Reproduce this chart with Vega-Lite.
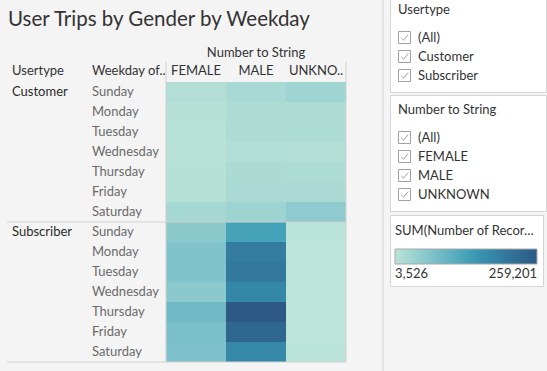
{
  "$schema": "https://vega.github.io/schema/vega-lite/v6.json",
  "width": 383,
  "height": 371,
  "autosize": "none",
  "padding": {"left": 0, "top": 0, "right": 164, "bottom": 0},
  "background": "#f4f4f4",
  "title": {"text": "User Trips by Gender by Weekday", "anchor": "start", "frame": "group", "orient": "top", "offset": -52, "baseline": "alphabetic", "dx": 8, "font": "Lato", "fontSize": 20.5, "fontWeight": "normal", "color": "#333333"},
  "config": {
    "font": "Lato",
    "view": {"fill": "white", "stroke": null},
    "axis": {"disable": true},
    "legend": {"orient": "none", "titleFont": "Lato", "titleFontSize": 13, "titleFontWeight": "normal", "titleColor": "#333333", "labelFont": "Lato", "labelFontSize": 13, "labelColor": "#333333", "fillColor": "white", "strokeColor": "#d4d4d4", "padding": 8}
  },
  "datasets": {
    "trips": [
      {"usertype": "Customer", "weekday": "Sunday", "gender": "FEMALE", "trips": 14000},
      {"usertype": "Customer", "weekday": "Sunday", "gender": "MALE", "trips": 24000},
      {"usertype": "Customer", "weekday": "Sunday", "gender": "UNKNOWN", "trips": 34000},
      {"usertype": "Customer", "weekday": "Monday", "gender": "FEMALE", "trips": 8600},
      {"usertype": "Customer", "weekday": "Monday", "gender": "MALE", "trips": 19000},
      {"usertype": "Customer", "weekday": "Monday", "gender": "UNKNOWN", "trips": 19500},
      {"usertype": "Customer", "weekday": "Tuesday", "gender": "FEMALE", "trips": 8200},
      {"usertype": "Customer", "weekday": "Tuesday", "gender": "MALE", "trips": 18000},
      {"usertype": "Customer", "weekday": "Tuesday", "gender": "UNKNOWN", "trips": 18500},
      {"usertype": "Customer", "weekday": "Wednesday", "gender": "FEMALE", "trips": 7000},
      {"usertype": "Customer", "weekday": "Wednesday", "gender": "MALE", "trips": 14500},
      {"usertype": "Customer", "weekday": "Wednesday", "gender": "UNKNOWN", "trips": 14000},
      {"usertype": "Customer", "weekday": "Thursday", "gender": "FEMALE", "trips": 10000},
      {"usertype": "Customer", "weekday": "Thursday", "gender": "MALE", "trips": 20500},
      {"usertype": "Customer", "weekday": "Thursday", "gender": "UNKNOWN", "trips": 19500},
      {"usertype": "Customer", "weekday": "Friday", "gender": "FEMALE", "trips": 10500},
      {"usertype": "Customer", "weekday": "Friday", "gender": "MALE", "trips": 21500},
      {"usertype": "Customer", "weekday": "Friday", "gender": "UNKNOWN", "trips": 21500},
      {"usertype": "Customer", "weekday": "Saturday", "gender": "FEMALE", "trips": 26000},
      {"usertype": "Customer", "weekday": "Saturday", "gender": "MALE", "trips": 36000},
      {"usertype": "Customer", "weekday": "Saturday", "gender": "UNKNOWN", "trips": 52000},
      {"usertype": "Subscriber", "weekday": "Sunday", "gender": "FEMALE", "trips": 55000},
      {"usertype": "Subscriber", "weekday": "Sunday", "gender": "MALE", "trips": 131000},
      {"usertype": "Subscriber", "weekday": "Sunday", "gender": "UNKNOWN", "trips": 4200},
      {"usertype": "Subscriber", "weekday": "Monday", "gender": "FEMALE", "trips": 67000},
      {"usertype": "Subscriber", "weekday": "Monday", "gender": "MALE", "trips": 195000},
      {"usertype": "Subscriber", "weekday": "Monday", "gender": "UNKNOWN", "trips": 3900},
      {"usertype": "Subscriber", "weekday": "Tuesday", "gender": "FEMALE", "trips": 68000},
      {"usertype": "Subscriber", "weekday": "Tuesday", "gender": "MALE", "trips": 203000},
      {"usertype": "Subscriber", "weekday": "Tuesday", "gender": "UNKNOWN", "trips": 3700},
      {"usertype": "Subscriber", "weekday": "Wednesday", "gender": "FEMALE", "trips": 56000},
      {"usertype": "Subscriber", "weekday": "Wednesday", "gender": "MALE", "trips": 178000},
      {"usertype": "Subscriber", "weekday": "Wednesday", "gender": "UNKNOWN", "trips": 3526},
      {"usertype": "Subscriber", "weekday": "Thursday", "gender": "FEMALE", "trips": 88000},
      {"usertype": "Subscriber", "weekday": "Thursday", "gender": "MALE", "trips": 259201},
      {"usertype": "Subscriber", "weekday": "Thursday", "gender": "UNKNOWN", "trips": 3800},
      {"usertype": "Subscriber", "weekday": "Friday", "gender": "FEMALE", "trips": 76000},
      {"usertype": "Subscriber", "weekday": "Friday", "gender": "MALE", "trips": 232000},
      {"usertype": "Subscriber", "weekday": "Friday", "gender": "UNKNOWN", "trips": 3900},
      {"usertype": "Subscriber", "weekday": "Saturday", "gender": "FEMALE", "trips": 71000},
      {"usertype": "Subscriber", "weekday": "Saturday", "gender": "MALE", "trips": 176000},
      {"usertype": "Subscriber", "weekday": "Saturday", "gender": "UNKNOWN", "trips": 4300}
    ],
    "usertypes": [{"usertype": "Customer"}, {"usertype": "Subscriber"}],
    "usertypeFilter": [{"usertype": "(All)"}, {"usertype": "Customer"}, {"usertype": "Subscriber"}],
    "genderFilter": [{"gender": "(All)"}, {"gender": "FEMALE"}, {"gender": "MALE"}, {"gender": "UNKNOWN"}],
    "genders": [{"gender": "FEMALE"}, {"gender": "MALE"}, {"gender": "UNKNOWN"}],
    "headers": [{"col": "Usertype"}, {"col": "Weekday of.."}],
    "groupHeader": [{"h": "Number to String"}]
  },
  "data": {"name": "trips"},
  "layer": [
    {
      "layer": [
        {
          "mark": {"type": "rect"},
          "encoding": {
            "x": {"field": "gender", "type": "nominal", "scale": {"type": "band", "domain": ["FEMALE", "MALE", "UNKNOWN"], "range": [166, 346], "paddingInner": 0, "paddingOuter": 0}},
            "y": {"field": "usertype", "type": "nominal", "scale": {"type": "band", "domain": ["Customer", "Subscriber"], "range": [82, 362], "paddingInner": 0, "paddingOuter": 0}},
            "yOffset": {"field": "weekday", "type": "nominal", "scale": {"domain": ["Sunday", "Monday", "Tuesday", "Wednesday", "Thursday", "Friday", "Saturday"], "paddingInner": 0, "paddingOuter": 0}},
            "color": {"field": "trips", "type": "quantitative", "title": "SUM(Number of Records)", "scale": {"scheme": "tealblues"},
              "legend": {"legendX": 390, "legendY": 215, "direction": "horizontal", "gradientLength": 142, "gradientThickness": 15, "padding": 5, "titleBaseline": "line-top", "titleLineHeight": 22, "titlePadding": 16, "titleLimit": 142, "labelOffset": 4, "values": [3526, 259201], "labelExpr": "format(datum.value, ',')", "gradientStrokeColor": "#a8a8a8", "gradientStrokeWidth": 1}}
          }
        },
        {
          "data": {"name": "genders"},
          "transform": [{"filter": "datum.gender === 'FEMALE'"}],
          "mark": {"type": "rule", "color": "#d0d0d0"},
          "encoding": {
            "x": {"field": "gender", "type": "nominal", "bandPosition": 0},
            "y": {"datum": "Customer", "bandPosition": -0.143},
            "y2": {"datum": "Subscriber", "bandPosition": 1}
          }
        },
        {
          "data": {"name": "genders"},
          "transform": [{"filter": "datum.gender === 'UNKNOWN'"}],
          "mark": {"type": "rule", "color": "#d0d0d0"},
          "encoding": {
            "x": {"field": "gender", "type": "nominal", "bandPosition": 1},
            "y": {"datum": "Customer", "bandPosition": -0.143},
            "y2": {"datum": "Subscriber", "bandPosition": 1}
          }
        },
        {
          "data": {"name": "usertypes"},
          "mark": {"type": "rule", "color": "#d0d0d0"},
          "encoding": {
            "x": {"datum": "FEMALE", "bandPosition": 0},
            "x2": {"datum": "UNKNOWN", "bandPosition": 1},
            "y": {"field": "usertype", "type": "nominal", "bandPosition": 1}
          }
        },
        {
          "data": {"name": "genders"},
          "mark": {"type": "text", "baseline": "alphabetic", "align": "center", "dy": -7, "fontSize": 13, "color": "#333333"},
          "encoding": {
            "x": {"field": "gender", "type": "nominal"},
            "y": {"datum": "Customer", "bandPosition": 0},
            "text": {"condition": {"test": "datum.gender === 'UNKNOWN'", "value": "UNKNO.."}, "field": "gender"}
          }
        },
        {
          "data": {"name": "groupHeader"},
          "mark": {"type": "text", "baseline": "alphabetic", "align": "center", "dy": -25, "fontSize": 13, "color": "#333333"},
          "encoding": {
            "x": {"datum": "MALE"},
            "y": {"datum": "Customer", "bandPosition": 0},
            "text": {"field": "h"}
          }
        }
      ]
    },
    {
      "layer": [
        {
          "transform": [{"filter": "datum.gender === 'FEMALE' && datum.weekday === 'Sunday'"}],
          "mark": {"type": "text", "align": "left", "baseline": "middle", "dx": 5, "fontSize": 13, "color": "#2b2b2b"},
          "encoding": {
            "x": {"datum": "Usertype", "bandPosition": 0, "scale": {"type": "band", "domain": ["Usertype", "Weekday of.."], "range": [7, 167], "paddingInner": 0, "paddingOuter": 0}},
            "y": {"field": "usertype", "type": "nominal"},
            "yOffset": {"field": "weekday", "type": "nominal"},
            "text": {"field": "usertype"}
          }
        },
        {
          "transform": [{"filter": "datum.gender === 'FEMALE'"}],
          "mark": {"type": "text", "align": "left", "baseline": "middle", "dx": 5, "fontSize": 13, "color": "#6a6a6a"},
          "encoding": {
            "x": {"datum": "Weekday of..", "bandPosition": 0},
            "y": {"field": "usertype", "type": "nominal"},
            "yOffset": {"field": "weekday", "type": "nominal"},
            "text": {"field": "weekday"}
          }
        },
        {
          "data": {"name": "headers"},
          "mark": {"type": "text", "align": "left", "baseline": "alphabetic", "dx": 5, "dy": -7, "fontSize": 13, "color": "#333333"},
          "encoding": {
            "x": {"field": "col", "type": "nominal", "bandPosition": 0},
            "y": {"datum": "Customer", "bandPosition": 0},
            "text": {"field": "col"}
          }
        },
        {
          "data": {"name": "usertypes"},
          "mark": {"type": "rule", "color": "#d0d0d0"},
          "encoding": {
            "x": {"datum": "Usertype", "bandPosition": 0},
            "x2": {"datum": "Weekday of..", "bandPosition": 1},
            "y": {"field": "usertype", "type": "nominal", "bandPosition": 1}
          }
        }
      ]
    },
    {
      "data": {"values": [{}]},
      "mark": {"type": "rule", "color": "#d4d4d4"},
      "encoding": {"x": {"value": "width"}}
    },
    {
      "data": {"name": "usertypeFilter"},
      "mark": {"type": "point", "size": 0, "strokeWidth": 1},
      "encoding": {
        "stroke": {"field": "usertype", "type": "nominal", "scale": {"domain": ["(All)", "Customer", "Subscriber"], "range": ["#7a7a7a", "#7a7a7a", "#7a7a7a"]},
          "legend": {"title": "Usertype", "legendX": 390, "legendY": -5, "symbolType": "M-1,-1H1V1H-1Z M-0.55,0.05L-0.15,0.45L0.6,-0.5 M21.8,0", "symbolSize": 144, "symbolFillColor": "white", "symbolStrokeWidth": 1, "titleBaseline": "line-top", "titleLineHeight": 14, "titlePadding": 15, "rowPadding": 2, "labelOffset": 7}}
      }
    },
    {
      "data": {"name": "genderFilter"},
      "mark": {"type": "point", "size": 0, "color": "#7a7a7a", "strokeWidth": 1},
      "encoding": {
        "shape": {"field": "gender", "type": "nominal", "scale": {"domain": ["(All)", "FEMALE", "MALE", "UNKNOWN"], "range": ["M-1,-1H1V1H-1Z M-0.55,0.05L-0.15,0.45L0.6,-0.5 M21.8,0", "M-1,-1H1V1H-1Z M-0.55,0.05L-0.15,0.45L0.6,-0.5 M21.8,0", "M-1,-1H1V1H-1Z M-0.55,0.05L-0.15,0.45L0.6,-0.5 M21.8,0", "M-1,-1H1V1H-1Z M-0.55,0.05L-0.15,0.45L0.6,-0.5 M21.8,0"]},
          "legend": {"title": "Number to String", "legendX": 390, "legendY": 95, "symbolSize": 144, "symbolFillColor": "white", "symbolStrokeColor": "#7a7a7a", "symbolStrokeWidth": 1, "titleBaseline": "line-top", "titleLineHeight": 14, "titlePadding": 15, "rowPadding": 2, "labelOffset": 7}}
      }
    }
  ],
  "resolve": {"scale": {"x": "independent"}}
}
